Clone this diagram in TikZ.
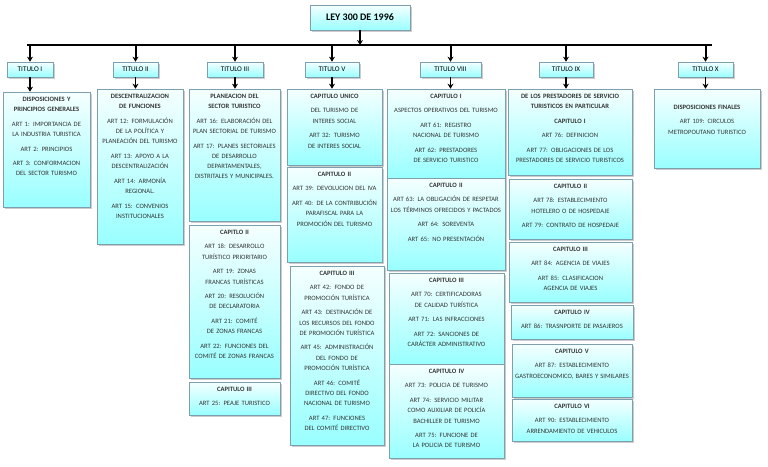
\documentclass[tikz,border=0pt]{standalone}
\usepackage{fontspec}
\setmainfont{Carlito}
\usetikzlibrary{shadows,arrows.meta}
\newcommand\nohy{\hyphenpenalty 10000 \exhyphenpenalty 10000 }
\tikzset{
 box/.style={draw=cyan!30!gray,line width=0.6pt,top color=cyan!4,bottom color=cyan!40,drop shadow={shadow xshift=1.5pt,shadow yshift=-1.5pt,opacity=0.4},inner sep=0pt},
 txt/.style={align=center,inner sep=2pt,font=\fontsize{6.6}{10.2}\selectfont\nohy,text=black!80},
 arr/.style={line width=1.8pt,-{Stealth[length=5pt,width=6pt]}},
}
\newcommand\bx[6]{%
 \pgfmathsetmacro\bw{#4-#2}\pgfmathsetmacro\bh{#5-#3}\pgfmathsetmacro\tw{#4-#2-6}%
 \node[box,minimum width=\bw pt,minimum height=\bh pt] (#1) at ({(#2+#4)/2},{(#3+#5)/2}) {};
 \node[txt,text width=\tw pt,anchor=north] (#1t) at ([yshift=-3pt]#1.north) {#6};}
\newcommand\sep{\\[4.5pt]}
\begin{document}
\begin{tikzpicture}[x=1pt,y=-1pt]
\useasboundingbox[fill=white] (0,0) rectangle (768,466);
\pgfmathsetmacro\bw{100}
\node[box,minimum width=100pt,minimum height=25pt,font=\fontsize{10}{12}\selectfont\bfseries] (ley) at (360,17.5) {LEY 300 DE 1996};
\coordinate (bl) at (27,45); \coordinate (br) at (712,45); \coordinate (bm) at (360,45);
\draw[line width=2.2pt] (bl) -- (br);
\draw[arr] (ley.south) -- (bm);
\foreach \n/\a/\b/\t in {t1/7/53/TITULO I,t2/113/158/TITULO II,t3/207/263/TITULO III,t4/305/359/TITULO V,t5/420/481/TITULO VIII,t6/539/593/TITULO IX,t7/678/733/TITULO X}{
 \pgfmathsetmacro\bw{\b-\a}
 \node[box,minimum width=\bw pt,minimum height=15pt,font=\fontsize{7.2}{8}\selectfont] (\n) at ({(\a+\b)/2},69.5) {\t};
 \coordinate (\n top) at ({(\a+\b)/2},45);
 \draw[line width=2pt,-{Stealth[length=5pt,width=6pt]}] ([yshift=1pt]\n top) -- (\n.north);
}
% column 1
\bx{c1}{3}{92}{90}{207}{\textbf{DISPOSICIONES Y PRINCIPIOS GENERALES}\sep ART 1: IMPORTANCIA DE LA INDUSTRIA TURISTICA\sep ART 2: PRINCIPIOS\sep ART 3: CONFORMACION DEL SECTOR TURISMO}
% column 2
\bx{c2}{97}{89}{183}{244}{\textbf{DESCENTRALIZACION DE FUNCIONES}\sep ART 12: FORMULACIÓN DE LA POLÍTICA Y PLANEACIÓN DEL TURISMO\sep ART 13: APOYO A LA DESCENTRALIZACIÓN\sep ART 14: ARMONÍA REGIONAL.\sep ART 15: CONVENIOS INSTITUCIONALES}
% column 3
\bx{c3a}{189}{89}{280}{221}{\textbf{PLANEACION DEL SECTOR TURISTICO}\sep ART 16: ELABORACIÓN DEL PLAN SECTORIAL DE TURISMO\sep ART 17: PLANES SECTORIALES DE DESARROLLO DEPARTAMENTALES, DISTRITALES Y MUNICIPALES.}
\bx{c3b}{189}{225}{280}{378}{\textbf{CAPITLO II}\sep ART 18: DESARROLLO TURÍSTICO PRIORITARIO\sep ART 19: ZONAS FRANCAS TURÍSTICAS\sep ART 20: RESOLUCIÓN DE DECLARATORIA\sep ART 21: COMITÉ DE ZONAS FRANCAS\sep ART 22: FUNCIONES DEL COMITÉ DE ZONAS FRANCAS}
\bx{c3c}{189}{382}{280}{415}{\textbf{CAPITULO III}\sep ART 25: PEAJE TURISTICO}
% column 4
\bx{c4a}{287}{89}{382}{165}{\textbf{CAPITULO UNICO}\sep DEL TURISMO DE INTERES SOCIAL\sep ART 32: TURISMO DE INTERES SOCIAL}
\bx{c4b}{287}{167}{382}{262}{\textbf{CAPITULO II}\sep ART 39: DEVOLUCION DEL IVA\sep ART 40: DE LA CONTRIBUCIÓN PARAFISCAL PARA LA PROMOCIÓN DEL TURISMO}
\bx{c4c}{290}{266}{384}{445}{\textbf{CAPITULO III}\sep ART 42: FONDO DE PROMOCIÓN TURÍSTICA\sep ART 43: DESTINACIÓN DE LOS RECURSOS DEL FONDO DE PROMOCIÓN TURÍSTICA\sep ART 45: ADMINISTRACIÓN DEL FONDO DE PROMOCIÓN TURÍSTICA\sep ART 46: COMITÉ DIRECTIVO DEL FONDO NACIONAL DE TURISMO\sep ART 47: FUNCIONES DEL COMITÉ DIRECTIVO}
% column 5
\bx{c5a}{387}{89}{505}{178}{\textbf{CAPITULO I}\sep ASPECTOS OPERATIVOS DEL TURISMO\sep ART 61: REGISTRO NACIONAL DE TURISMO\sep ART 62: PRESTADORES DE SERVICIO TURISTICO}
\bx{c5b}{387}{178}{505}{270}{\textbf{CAPITULO II}\sep ART 63: LA OBLIGACIÓN DE RESPETAR LOS TÉRMINOS OFRECIDOS Y PACTADOS\sep ART 64: SOREVENTA\sep ART 65: NO PRESENTACIÓN}
\bx{c5c}{389}{273}{504}{364}{\textbf{CAPITULO III}\sep ART 70: CERTIFICADORAS DE CALIDAD TURÍSTICA\sep ART 71: LAS INFRACCIONES\sep ART 72: SANCIONES DE CARÁCTER ADMINISTRATIVO}
\bx{c5d}{389}{364}{504}{458}{\textbf{CAPITULO IV}\sep ART 73: POLICIA DE TURISMO\sep ART 74: SERVICIO MILITAR COMO AUXILIAR DE POLICÍA BACHILLER DE TURISMO\sep ART 75: FUNCIONE DE LA POLICIA DE TURISMO}
% column 6
\bx{c6a}{508}{89}{632}{175}{\textbf{DE LOS PRESTADORES DE SERVICIO TURISTICOS EN PARTICULAR}\sep\textbf{CAPITULO I}\sep ART 76: DEFINICION\sep ART 77: OBLIGACIONES DE LOS PRESTADORES DE SERVICIO TURISTICOS}
\bx{c6b}{509}{179}{632}{239}{\textbf{CAPITULO II}\sep ART 78: ESTABLECIMIENTO HOTELERO O DE HOSPEDAJE\sep ART 79: CONTRATO DE HOSPEDAJE}
\bx{c6c}{509}{242}{632}{302}{\textbf{CAPITULO III}\sep ART 84: AGENCIA DE VIAJES\sep ART 85: CLASIFICACION AGENCIA DE VIAJES}
\bx{c6d}{511}{305}{633}{339}{\textbf{CAPITULO IV}\sep ART 86: TRASNPORTE DE PASAJEROS}
\bx{c6e}{512}{344}{632}{397}{\textbf{CAPITULO V}\sep ART 87: ESTABLECIMIENTO GASTROECONOMICO, BARES Y SIMILARES}
\bx{c6f}{512}{399}{632}{441}{\textbf{CAPITULO VI}\sep ART 90: ESTABLECIMIENTO ARRENDAMIENTO DE VEHICULOS}
% column 7
\bx{c7}{654}{89}{760}{168}{\mbox{}\\[5pt]\textbf{DISPOSICIONES FINALES}\sep ART 109: CIRCULOS METROPOUTANO TURISTICO}
\foreach \a/\b in {t1/c1,t2/c2,t3/c3a,t4/c4a,t5/c5a,t6/c6a,t7/c7}{\draw[arr] (\a.south) -- (\a.south |- \b.north);}
\end{tikzpicture}
\end{document}
